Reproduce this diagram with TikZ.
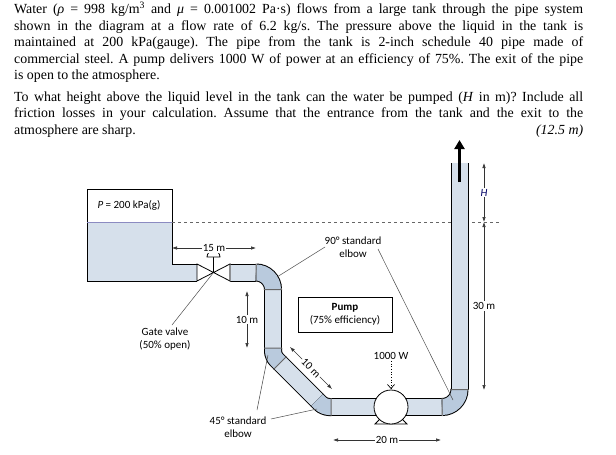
\documentclass[tikz,border=0pt]{standalone}
\usepackage{fontspec}
\setmainfont{Liberation Serif}
\newfontfamily\carlfont{Carlito}
\usetikzlibrary{arrows.meta}
\definecolor{pipecol}{HTML}{D6E0EB}
\definecolor{elbcol}{HTML}{B9CADD}
\definecolor{dimcol}{HTML}{333333}
\begin{document}
\begin{tikzpicture}[x=1pt,y=-1pt,
  pipe/.style={line width=16pt,draw=pipecol,preaction={draw=black,line width=18pt}},
  elb/.style={line width=16pt,draw=elbcol,preaction={draw=black,line width=18pt}},
  joint/.style={draw=black!60,line width=1pt},
  dim/.style={draw=dimcol,line width=0.6pt,{Latex[length=5pt,width=3.5pt]}-{Latex[length=5pt,width=3.5pt]}},
  lead/.style={draw=black!70,line width=0.5pt},
  lbl/.style={font=\carlfont\fontsize{11}{12.5}\selectfont,align=center,inner sep=1pt}]
\useasboundingbox (0,0) rectangle (616,455);
% text
\node[anchor=north west,inner sep=0pt,text width=569pt,align=justify,font=\fontsize{13.9}{16.5}\selectfont\frenchspacing] (txt) at (14,2)
{Water (\textit{ρ} = 998 kg/m\textsuperscript{3} and \textit{μ} = 0.001002 Pa·s) flows from a large tank through the pipe system\linebreak shown in the diagram at a flow rate of 6.2 kg/s. The pressure above the liquid in the tank is\linebreak maintained at 200 kPa(gauge). The pipe from the tank is 2-inch schedule 40 pipe made of\linebreak commercial steel. A pump delivers 1000 W of power at an efficiency of 75\%. The exit of the pipe\linebreak is open to the atmosphere.\par\vspace{5pt}
To what height above the liquid level in the tank can the water be pumped (\textit{H} in m)? Include all\linebreak friction losses in your calculation. Assume that the entrance from the tank and the exit to the\linebreak atmosphere are sharp.\hfill\textit{(12.5 m)}};
% tank
\fill[pipecol] (87,222) -- (172,222) -- (172,264) -- (197,264) -- (197,281) -- (87,281) -- cycle;
\draw[line width=0.8pt] (197,264) -- (172,264) -- (172,189) -- (87,189) -- (87,281) -- (197,281);
\draw[joint] (197,264) -- (197,281);
\draw[color=blue!30!gray!70,line width=0.8pt] (87,222) -- (172,222);
\draw[dashed,draw=black!60,line width=0.5pt] (172,222) -- (500,222);
\node[lbl] (p) at (129,205) {\textit{P} = 200 kPa(g)};
% valve
\draw[line width=0.8pt,fill=white] (197,264) -- (230,281) -- (230,264) -- (197,281) -- cycle;
\coordinate (vc) at (213.5,272.5);
\draw[line width=0.8pt] (vc) -- (213.5,257);
\draw[line width=0.8pt,fill=white] (207,257) -- (220,257) arc (0:-180:6.5) -- cycle;
% pipes
\draw[pipe] (230,272.5) -- (256,272.5);
\draw[elb] (256,272.5) arc (-90:0:17);
\draw[pipe] (273,289.5) -- (273,348);
\draw[elb,rounded corners=5] (273,348) -- (273,356) -- (280,363);
\draw[pipe] (280,363) -- (317,400);
\draw[elb,rounded corners=5] (317,400) -- (324,407) -- (331,407);
\draw[pipe] (331,407) -- (442,407);
\draw[elb] (442,407) arc (90:0:17.5);
\draw[pipe] (459.5,389.5) -- (459.5,163);
\draw[joint] (230,263.5) -- (230,281.5) (256,263.5) -- (256,281.5) (264,289.5) -- (282,289.5)
 (264,348) -- (282,348) (273.6,369.4) -- (286.4,356.6) (331,398) -- (331,416) (442,398) -- (442,416)
 (450.5,389.5) -- (468.5,389.5);
% pump
\draw[line width=0.8pt,fill=white] (381,418) -- (401,418) -- (407,424) -- (375,424) -- cycle;
\draw[line width=0.8pt,fill=white] (391,407) circle (17) node (pump) {};
\node[lbl] (pw) at (391,356) {1000 W};
\draw[dotted,line width=0.7pt,-{Straight Barb[length=4pt,width=7pt]}] (pw) -- (391,389);
\node[lbl,draw,line width=0.6pt,minimum width=94pt,minimum height=35pt] (pbox) at (345,314.5) {\textbf{Pump}\\(75\% efficiency)};
% exit arrow
\draw[line width=3pt,-{Triangle[length=9pt,width=10pt]}] (459.5,182) -- (459.5,140);
% dimensions
\draw[dim] (172,248) -- node[lbl,fill=white] {15 m} (256,248);
\draw[dim] (247,291) -- node[lbl,fill=white] {10 m} (247,348);
\draw[dim] (290,347) -- node[lbl,fill=white,rotate=-45] {10 m} (332,389);
\draw[dim] (333,440) -- node[lbl,fill=white] {20 m} (441,440);
\draw[dim] (484,163) -- node[lbl,fill=white,text=blue!40!black] {\textit{H}} (484,222);
\draw[dim] (484,222) -- node[lbl,fill=white] {30 m} (484,390);
% labels
\node[lbl] (gv) at (165,339) {Gate valve\\(50\% open)};
\draw[lead] (172,325) -- (vc);
\node[lbl] (e90) at (353,247) {90° standard\\elbow};
\draw[lead] (325,247) -- (277,277);
\draw[lead] (378,249) -- (453,400);
\node[lbl] (e45) at (238,427) {45° standard\\elbow};
\draw[lead] (257,410) -- (268,355);
\draw[lead] (271,419) -- (317,409);
\end{tikzpicture}
\end{document}
